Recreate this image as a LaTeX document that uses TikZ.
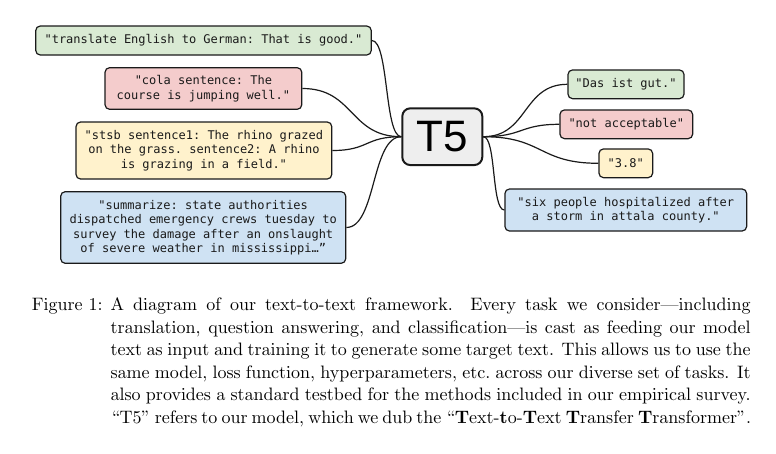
\documentclass[tikz,border=0pt]{standalone}
\usepackage{fontspec}
\setmonofont{DejaVu Sans Mono}
\newfontfamily\tfivefont{Liberation Sans}
\font\capfont=cmr10 at 18.0pt
\font\capbf=cmbx10 at 18.0pt
\definecolor{cgreen}{HTML}{D9EAD3}
\definecolor{cred}{HTML}{F4CCCC}
\definecolor{cyellow}{HTML}{FFF2CC}
\definecolor{cblue}{HTML}{CFE2F3}
\definecolor{cgray}{HTML}{EEEEEE}
\definecolor{cink}{HTML}{1A1A1A}
\tikzset{
  txtbox/.style={draw=cink, line width=1.2pt, rounded corners=4.5pt, inner sep=0pt,
    align=center, text=cink, font=\ttfamily\fontsize{12}{14.4}\selectfont},
  modelbox/.style={draw=cink, line width=2pt, rounded corners=8pt, inner sep=0pt,
    fill=cgray, text=black, font=\tfivefont\fontsize{44}{52}\selectfont},
  conn/.style={draw=cink, line width=1.2pt}
}
\begin{document}
\begin{tikzpicture}[x=1pt,y=-1pt]
\useasboundingbox (0,0) rectangle (776,453);
% inputs
\node[txtbox, fill=cgreen, minimum width=335.5pt, minimum height=29pt] (in1) at (203.5,40.5)
  {"translate English to German: That is good."};
\node[txtbox, fill=cred, minimum width=196.7pt, minimum height=41.6pt] (in2) at (203.4,88.5)
  {"cola sentence: The\\course is jumping well."};
\node[txtbox, fill=cyellow, minimum width=255.7pt, minimum height=57pt] (in3) at (203.9,150.5)
  {"stsb sentence1: The rhino grazed\\on the grass. sentence2: A rhino\\is grazing in a field."};
\node[txtbox, fill=cblue, minimum width=285pt, minimum height=71.6pt] (in4) at (203.2,227.5)
  {"summarize: state authorities\\dispatched emergency crews tuesday to\\survey the damage after an onslaught\\of severe weather in mississippi…”};
% model
\node[modelbox, minimum width=80pt, minimum height=56.7pt] (t5) at (442.3,136.7) {T5};
% outputs
\node[txtbox, fill=cgreen, minimum width=116pt, minimum height=28.7pt] (out1) at (626,84.3)
  {"Das ist gut."};
\node[txtbox, fill=cred, minimum width=132.7pt, minimum height=28.7pt] (out2) at (626.3,124.3)
  {"not acceptable"};
\node[txtbox, fill=cyellow, minimum width=53.7pt, minimum height=28.7pt] (out3) at (625.8,163.3)
  {"3.8"};
\node[txtbox, fill=cblue, minimum width=241.7pt, minimum height=42pt] (out4) at (625.8,210)
  {"six people hospitalized after\\a storm in attala county."};
% connectors
\draw[conn] (in1.east) .. controls +(17,0) and +(-17,0) .. (t5.west);
\draw[conn] (in2.east) .. controls +(52,0) and +(-52,0) .. (t5.west);
\draw[conn] (in3.east) .. controls +(37,0) and +(-37,0) .. (t5.west);
\draw[conn] (in4.east) .. controls +(30,0) and +(-30,0) .. (t5.west);
\draw[conn] (t5.east) .. controls +(45,0) and +(-45,0) .. (out1.west);
\draw[conn] (t5.east) .. controls +(40,0) and +(-40,0) .. (out2.west);
\draw[conn] (t5.east) .. controls +(60,0) and +(-60,0) .. (out3.west);
\draw[conn] (t5.east) .. controls +(13,0) and +(-13,0) .. (out4.west);
% caption
\node[anchor=north west, inner sep=0pt, text width=719.3pt, align=justify] (cap) at (31.65,298.1)
  {\capfont\baselineskip=22.5pt\parfillskip=0pt\rightskip=0pt\hfuzz=20pt\setbox0=\hbox{Figure 1: }\hangindent=\wd0 \hangafter=1 \noindent\box0 A diagram of our text-to-text framework. Every task we consider---including\linebreak translation, question answering, and classification---is cast as feeding our model\linebreak text as input and training it to generate some target text. This allows us to use the\linebreak same model, loss function, hyperparameters, etc.\ across our diverse set of tasks. It\linebreak also provides a standard testbed for the methods included in our empirical survey.\linebreak ``T5''~refers~to~our~model,~which~we~dub~the~``{\capbf T}ext-{\capbf t}o-{\capbf T}ext~{\capbf T}ransfer~{\capbf T}ransformer''.\par};
\end{tikzpicture}
\end{document}
